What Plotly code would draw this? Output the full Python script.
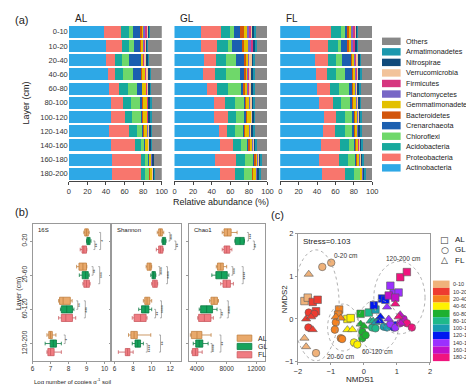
import plotly.graph_objects as go

W, H = 474, 384
FONT = "Liberation Sans, Arial, sans-serif"


def px(x):
    return x / W


def py(y):
    return 1 - y / H


# ---------------- Panel (a) data ----------------
layers = ["0-10", "10-20", "20-40", "40-60", "60-80", "80-100", "100-120",
          "120-140", "140-160", "160-180", "180-200"]
phyla = ["Actinobacteria", "Proteobacteria", "Acidobacteria", "Chloroflexi",
         "Crenarchaeota", "Bacteroidetes", "Gemmatimonadetes", "Planctomycetes",
         "Firmicutes", "Verrucomicrobia", "Nitrospirae", "Armatimonadetes", "Others"]
phylum_colors = ["#2EA8E6", "#F8766D", "#17A99D", "#6FD86A", "#1B5FB0", "#D2550C",
                 "#E3C000", "#7766C6", "#D6367F", "#F2C39A", "#114A7A", "#1C98AE", "#888888"]

# rows = layers, columns = phyla (same order as above)
al_abund = [
    [38, 18.5, 8, 5, 7, 2, 2, 2, 1.5, 1, 1.5, 1, 12.5],
    [40, 17, 8, 5, 7, 1, 2, 1, 1, 1, 1.5, 1, 14.5],
    [40, 10, 7, 7.5, 13, 0.5, 2, 0.5, 0.5, 2, 2.5, 1, 13.5],
    [42.5, 7.7, 8, 10.5, 9.5, 0.5, 3.5, 0.5, 0.5, 1.5, 2.5, 1, 11.8],
    [43, 11.5, 9, 10, 5, 0.5, 4, 0.5, 0.5, 1, 2.5, 1, 11.5],
    [45, 13, 9, 10, 2.5, 0.5, 4, 0.5, 0.5, 1, 2, 1, 11],
    [45, 15.5, 8, 9.5, 1.5, 0.5, 4, 0.5, 0.5, 1, 2, 1.5, 10.5],
    [43, 22, 8, 6, 1.5, 0.5, 3.5, 0.5, 0.5, 1, 2, 1, 10.5],
    [45, 26, 7, 3, 1, 0.5, 2.5, 0.5, 0.5, 1, 1.5, 1, 10.5],
    [46, 32, 4.5, 3.5, 0.5, 0.3, 2, 0.5, 0.3, 0.5, 1.5, 0.5, 7.9],
    [46, 32, 4.5, 4, 0.5, 0.3, 2, 0.3, 0.3, 0.7, 1.5, 0.5, 7.4],
]
gl_abund = [
    [29, 21.5, 9, 5, 5.5, 4.5, 3.5, 3, 2, 1.5, 2, 1.5, 12],
    [29, 17, 11, 5, 10.5, 2.5, 4.5, 2.5, 3, 1, 1.5, 1, 11.5],
    [32, 12.5, 10.5, 11, 10, 1, 3, 1, 0.5, 1.5, 3, 1, 13],
    [31, 12.5, 11.5, 15, 6, 0.5, 3, 1, 0.5, 1.5, 3, 1, 13.5],
    [35, 10.5, 11.5, 14.5, 3.5, 0.5, 4, 1, 0.5, 1.5, 3, 1, 13.5],
    [43, 11.5, 10.5, 10.5, 1.5, 0.3, 4, 0.5, 0.3, 1, 2.5, 1, 13.4],
    [43, 14, 9.5, 9.5, 1.5, 0.3, 5, 0.5, 0.3, 1, 1.5, 1, 12.9],
    [47.5, 8.5, 9.5, 9.5, 1, 0.3, 5, 0.5, 0.3, 1, 2, 1, 13.9],
    [49, 14, 9, 7.5, 1, 0.3, 4, 0.5, 0.3, 0.5, 1.5, 1, 11.4],
    [44, 22, 10, 10, 1, 0.3, 2.5, 1, 0.5, 0.5, 1.5, 1, 5.7],
    [49, 16, 9.5, 9.5, 0.5, 0.3, 3.5, 1, 0.5, 0.5, 1.5, 1, 7.2],
]
fl_abund = [
    [32, 23, 11, 4, 3, 2, 2.5, 2, 3, 0.5, 1, 1, 15],
    [32, 20, 10.5, 4, 7, 1.5, 2.5, 2, 2.5, 0.5, 1.5, 1, 15],
    [38, 14, 8.5, 7, 10.5, 0.5, 3, 1, 1, 1, 2.5, 1, 12],
    [38.5, 12, 10, 9.5, 9, 0.5, 3, 1, 0.5, 1, 2.5, 1, 11.5],
    [39.5, 14.5, 9.5, 11, 4, 0.3, 3.5, 1, 0.3, 1, 2, 1, 12.4],
    [42.5, 14.5, 9, 9.5, 3.5, 0.3, 3.5, 1, 0.3, 1, 2, 1, 11.9],
    [48, 13, 9.5, 8, 2, 0.3, 3, 1.5, 0.5, 0.5, 1.5, 1, 11.2],
    [46, 14, 10.5, 8, 2, 0.3, 3, 1, 0.3, 0.5, 2, 1, 11.4],
    [44.5, 21, 9.5, 5.5, 1.5, 0.3, 3, 0.5, 0.3, 1, 1.5, 1, 10.4],
    [42.5, 21, 10.5, 8, 1, 0.3, 3, 1, 0.3, 0.5, 2, 1, 8.9],
    [45.5, 24.5, 10, 7, 0.5, 0.3, 2, 0.5, 0.3, 0.5, 1, 1, 6.9],
]

# ---------------- Panel (b) data ----------------
land_uses = ["AL", "GL", "FL"]
lu_fill = ["#E9A96B", "#16A35C", "#F07C82"]
lu_line = ["#C08040", "#0D7A42", "#C95A60"]
depths_b = ["0-20", "20-60", "60-120", "120-200"]
# each row: [lower whisker, q1, median, q3, upper whisker]
s16_al = [[8.85, 8.9, 9.0, 9.1, 9.15], [8.45, 8.58, 8.8, 9.0, 9.02], [7.45, 7.5, 7.7, 8.1, 8.2], [6.8, 6.9, 7.0, 7.1, 7.3]]
s16_gl = [[9.0, 9.02, 9.1, 9.2, 9.25], [8.6, 8.76, 8.95, 9.1, 9.15], [7.55, 7.6, 7.9, 8.22, 8.3], [6.7, 6.98, 7.15, 7.33, 7.6]]
s16_fl = [[8.65, 8.75, 8.85, 9.0, 9.02], [8.8, 8.85, 9.0, 9.16, 9.2], [7.45, 7.6, 7.85, 8.22, 8.4], [6.8, 6.85, 7.0, 7.2, 7.6]]
shan_al = [[10.6, 10.75, 10.95, 11.15, 11.3], [9.4, 9.5, 9.8, 9.95, 10.0], [9.1, 9.25, 9.5, 9.8, 10.0], [7.5, 7.75, 8.1, 8.45, 9.9]]
shan_gl = [[11.1, 11.15, 11.3, 11.5, 11.55], [9.9, 10.03, 10.2, 10.4, 10.45], [8.6, 8.9, 9.3, 9.7, 10.0], [7.9, 8.2, 8.5, 8.8, 9.1]]
shan_fl = [[10.5, 10.75, 10.95, 11.2, 11.25], [10.0, 10.1, 10.35, 10.6, 10.65], [7.9, 8.1, 8.8, 9.4, 9.5], [6.4, 7.15, 7.4, 7.65, 8.0]]
chao_al = [[7400, 7640, 8100, 8600, 9400], [6600, 6760, 7200, 7550, 8000], [5700, 5880, 6300, 6760, 6900], [3100, 3250, 4000, 4660, 5900]]
chao_gl = [[9100, 9170, 9800, 10360, 10400], [6000, 6540, 7300, 8080, 8300], [4300, 4490, 5300, 6100, 6700], [3500, 3830, 4300, 4790, 5500]]
chao_fl = [[7400, 7640, 8000, 8430, 8700], [7200, 7500, 8000, 8500, 8900], [4100, 4220, 5000, 5880, 6200], [3300, 3380, 3800, 4130, 4700]]
s16_ticks = [6, 7, 8, 9, 10]
shan_ticks = [6, 8, 10, 12]
chao_ticks = [4000, 8000, 12000]
# significance: (depth index, land use a, land use b, label)
sig_16s = [(0, 1, 2, "**"), (0, 0, 2, "*"), (1, 0, 1, "**"), (1, 0, 2, "***"),
           (2, 0, 1, "**"), (2, 0, 2, "***"), (3, 0, 1, "*")]
sig_shan = [(0, 0, 1, "***"), (0, 1, 2, "**"), (1, 0, 1, "****"), (1, 0, 2, "****"),
            (2, 1, 2, "**"), (2, 0, 2, "****"), (3, 1, 2, "****"), (3, 0, 2, "**")]
sig_chao = [(0, 0, 1, "***"), (0, 1, 2, "**"), (1, 0, 1, "***"), (1, 0, 2, "****"),
            (2, 1, 2, "**"), (2, 0, 2, "****"), (3, 1, 2, "****"), (3, 0, 2, "**")]

# ---------------- Panel (c) data ----------------
layer_colors = ["#F0B27A", "#EE3B30", "#F5821F", "#FFF200", "#1DB02F", "#1FB98A",
                "#1A9CB0", "#0018F0", "#9B30FF", "#C010C8", "#F0147E"]
nmds_al_x = [-1.8, -1.7, -1.55, -1.4, -1.45, -0.75, -0.78, -0.5, -0.4, -0.1, 0.15, 0.35,
             0.3, 0.55, 0.65, 0.8, 0.9, 1.05, 0.75, 0.95, 1.1, 1.3]
nmds_al_y = [0.42, 0.5, 0.4, 0.45, 0.18, 0.22, 0.1, 0.0, 0.02, 0.12, 0.15, 0.22,
             0.32, 0.48, 0.45, 0.78, 0.6, 0.62, 0.55, 0.5, 0.98, 1.1]
nmds_al_layer = [0, 0, 1, 1, 1, 2, 2, 3, 3, 4, 5, 6, 7, 7, 7, 8, 8, 8, 9, 9, 10, 10]
nmds_gl_x = [-1.26, -0.99, -1.45, -1.67, -1.5, -1.68, -0.85, -0.88, -0.7, -0.66, -0.3, -0.2,
             -0.05, -0.05, 0.05, 0.25, 0.35, 0.6, 0.7, 0.9, 0.95, 0.8, 0.95, 1.1, 1.2, 1.3, 1.45]
nmds_gl_y = [1.22, 1.32, -0.8, 0.15, 0.12, -0.2, -0.08, -0.25, -0.45, -0.47, -0.55, -0.6,
             -0.3, -0.45, -0.38, -0.2, -0.22, -0.18, -0.2, -0.2, -0.15, -0.12, -0.2, -0.1, 0.0, -0.1, -0.2]
nmds_gl_layer = [0, 0, 0, 1, 1, 1, 2, 2, 2, 2, 3, 3, 4, 4, 4, 5, 5, 6, 6, 7, 7, 8, 8, 9, 9, 10, 10]
nmds_fl_x = [-1.67, -1.8, -1.75, -1.75, -1.6, -1.55, -0.85, -0.7, -0.5, -0.35, -0.1, 0.0,
             0.2, 0.28, 0.35, 0.45, 0.5, 0.48, 0.7, 0.75, 1.1, 1.12, 1.05, 0.95]
nmds_fl_y = [1.05, -0.45, -0.65, 0.0, 0.05, -0.25, 0.05, 0.02, -0.25, -0.25, -0.12, -0.17,
             -0.05, -0.05, -0.08, 0.0, 0.05, -0.05, 0.28, 0.0, 0.1, -0.1, 0.05, 0.35]
nmds_fl_layer = [0, 0, 0, 1, 1, 1, 2, 2, 3, 3, 4, 4, 5, 5, 6, 6, 7, 7, 8, 8, 9, 9, 10, 10]
stress_text = "Stress=0.103"
# ellipse groups: label, (x0, x1, y0, y1), label position
ellipse_labels = ["0-20 cm", "20-60 cm", "60-120 cm", "120-200 cm"]
ellipse_bounds = [(-2.15, -0.75, -0.98, 1.62), (-1.1, -0.15, -0.75, 0.35),
                  (-0.2, 1.05, -0.75, 0.45), (0.3, 1.85, -0.35, 1.35)]
ellipse_label_pos = [(-0.55, 1.48), (-0.72, -0.87), (0.42, -0.77), (1.18, 1.42)]

fig = go.Figure()

# ---- (a) stacked bars ----
for pi, (abund, xa, ya) in enumerate([(al_abund, "x", "y"), (gl_abund, "x2", "y2"), (fl_abund, "x3", "y3")]):
    for k, ph in enumerate(phyla):
        fig.add_trace(go.Bar(
            y=layers, x=[row[k] for row in abund], orientation="h", name=ph,
            marker=dict(color=phylum_colors[k], line=dict(width=0)),
            xaxis=xa, yaxis=ya, showlegend=False, hoverinfo="x+y+name"))

# ---- (b) boxes ----
box_sets = [([s16_al, s16_gl, s16_fl], "x4", "y4"),
            ([shan_al, shan_gl, shan_fl], "x5", "y5"),
            ([chao_al, chao_gl, chao_fl], "x6", "y6")]
for stats, xa, ya in box_sets:
    for li, lu in enumerate(land_uses):
        s = stats[li]
        fig.add_trace(go.Box(
            y=depths_b, orientation="h", name=lu, offsetgroup=lu,
            lowerfence=[r[0] for r in s], q1=[r[1] for r in s], median=[r[2] for r in s],
            q3=[r[3] for r in s], upperfence=[r[4] for r in s],
            fillcolor=lu_fill[li], line=dict(color=lu_line[li], width=0.8),
            whiskerwidth=0.5, boxpoints=False, xaxis=xa, yaxis=ya, showlegend=False))

# ---- (c) NMDS ----
for xs, ys, lays, sym, lu in [(nmds_al_x, nmds_al_y, nmds_al_layer, "square", "AL"),
                              (nmds_gl_x, nmds_gl_y, nmds_gl_layer, "circle", "GL"),
                              (nmds_fl_x, nmds_fl_y, nmds_fl_layer, "triangle-up", "FL")]:
    fig.add_trace(go.Scatter(
        x=xs, y=ys, mode="markers", name=lu, xaxis="x7", yaxis="y7", showlegend=False,
        marker=dict(symbol=sym, size=7.5 if sym != "triangle-up" else 8,
                    color=[layer_colors[i] for i in lays],
                    line=dict(color="#5a5a5a", width=0.6))))

shapes = []
annotations = []


def ann(x, y, text, size=8, xanchor="left", yanchor="middle", angle=0, color="#222", xref="paper", yref="paper", family=FONT):
    annotations.append(dict(x=x, y=y, xref=xref, yref=yref, text=text, showarrow=False,
                            xanchor=xanchor, yanchor=yanchor, textangle=angle,
                            font=dict(size=size, color=color, family=family)))


# (a) labels
ann(px(1), py(8), "(a)", size=11)
for x0, t in [(62, "AL"), (170, "GL"), (278, "FL")]:
    ann(px(x0), py(7), t, size=10)
ann(px(14), py(93), "Layer (cm)", size=9, xanchor="center", angle=-90)
ann(px(214), py(195), "Relative abundance (%)", size=9, xanchor="center")
# (a) manual legend, top entry = Others
for i, k in enumerate(reversed(range(len(phyla)))):
    yc = 30 + 10.8 * i
    shapes.append(dict(type="rect", xref="paper", yref="paper", x0=px(378), x1=px(397),
                       y0=py(yc + 3.8), y1=py(yc - 3.8), fillcolor=phylum_colors[k], line=dict(width=0)))
    ann(px(400), py(yc), phyla[k], size=7.2)

# (b) labels
ann(px(1), py(205), "(b)", size=11)
ann(px(7), py(288), "Layer (cm)", size=7, xanchor="center", angle=-90)
ann(px(20), py(378), "Log number of copies g<sup>-1</sup> soil", size=6)
ann(px(25), py(223), "16S", size=6)
ann(px(105), py(223), "Shannon", size=6)
ann(px(184), py(223), "Chao1", size=6)
for li, lu in enumerate(land_uses):
    yc = 334 + 8.5 * li
    shapes.append(dict(type="rect", xref="paper", yref="paper", x0=px(230), x1=px(245),
                       y0=py(yc + 3.2), y1=py(yc - 3.2), fillcolor=lu_fill[li],
                       line=dict(color=lu_line[li], width=0.8)))
    ann(px(249), py(yc), lu, size=7)

# significance brackets
offsets = [-0.25, 0.0, 0.25]
for (stats, xa, ya), sigs, scale in zip(box_sets, [sig_16s, sig_shan, sig_chao],
                                         [18.75, 9.5, 0.0076]):
    level_count = {}
    for (d, a, b, lab) in sigs:
        base = max(stats[a][d][4], stats[b][d][4])
        if b - a == 2:
            base = max(base, stats[1][d][4])
        lvl = level_count.get(d, 0)
        level_count[d] = lvl + 1
        xb = base + (4 + 6 * lvl) / scale
        tick = 1.5 / scale
        y1 = d + offsets[a]
        y2 = d + offsets[b]
        lc = dict(color="#777", width=0.6)
        shapes.append(dict(type="line", xref=xa, yref=ya, x0=xb, x1=xb, y0=y1, y1=y2, line=lc))
        shapes.append(dict(type="line", xref=xa, yref=ya, x0=xb - tick, x1=xb, y0=y1, y1=y1, line=lc))
        shapes.append(dict(type="line", xref=xa, yref=ya, x0=xb - tick, x1=xb, y0=y2, y1=y2, line=lc))
        ann(xb + 2.2 / scale, (y1 + y2) / 2, lab, size=5, xanchor="center", angle=-90,
            xref=xa, yref=ya, color="#333")

# (c) labels
ann(px(263), py(208), "(c)", size=11)
ann(px(278), py(294), "NMDS2", size=8, xanchor="center", angle=-90)
ann(px(356), py(376), "NMDS1", size=8, xanchor="center")
ann(-1.9, 1.82, stress_text, size=8, xref="x7", yref="y7")
for (x0, x1, y0, y1), lab, (lx, ly) in zip(ellipse_bounds, ellipse_labels, ellipse_label_pos):
    shapes.append(dict(type="circle", xref="x7", yref="y7", x0=x0, x1=x1, y0=y0, y1=y1,
                       line=dict(color="#9a9a9a", width=0.8, dash="dot")))
    ann(lx, ly, lab, size=6.5, xanchor="center", xref="x7", yref="y7", color="#333")
for i, (sym, lu) in enumerate(zip(["□", "○", "△"], land_uses)):
    yc = 233 + 10.5 * i
    ann(px(442), py(yc), sym, size=9, xanchor="center", family="DejaVu Sans", color="#333")
    ann(px(451), py(yc), lu, size=8)
for i, lab in enumerate(layers):
    yt = 275 + 7.5 * i
    shapes.append(dict(type="rect", xref="paper", yref="paper", x0=px(430), x1=px(447),
                       y0=py(yt + 7.5), y1=py(yt), fillcolor=layer_colors[i], line=dict(width=0)))
    ann(px(448.5), py(yt + 3.75), lab, size=5.5, color="#333")

axis_font = dict(size=7.5, color="#333", family=FONT)
small_font = dict(size=6.5, color="#333", family=FONT)

layout = dict(
    width=W, height=H, margin=dict(l=0, r=0, t=0, b=0),
    paper_bgcolor="white", plot_bgcolor="white",
    font=dict(family=FONT, color="#222"),
    barmode="stack", bargap=0.16,
    boxmode="group", boxgap=0.25, boxgroupgap=0.16,
    showlegend=False, shapes=shapes, annotations=annotations,
)
bar_x = dict(range=[0, 100], tickvals=[0, 20, 40, 60, 80, 100], ticks="outside", ticklen=3,
             showline=True, linecolor="#444", linewidth=0.8, showgrid=False, zeroline=False,
             tickfont=axis_font)
bar_y = dict(type="category", autorange="reversed", showgrid=False, showline=False,
             ticks="", tickfont=axis_font, domain=[py(173), py(13)])
layout["xaxis"] = dict(bar_x, domain=[px(58), px(153)], anchor="y")
layout["xaxis2"] = dict(bar_x, domain=[px(166), px(261)], anchor="y2")
layout["xaxis3"] = dict(bar_x, domain=[px(274), px(368)], anchor="y3")
layout["yaxis"] = dict(bar_y, anchor="x")
layout["yaxis2"] = dict(bar_y, anchor="x2", matches="y", showticklabels=False)
layout["yaxis3"] = dict(bar_y, anchor="x3", matches="y", showticklabels=False)

frame = dict(showline=True, mirror=True, linecolor="#999", linewidth=0.8, showgrid=False,
             zeroline=False, ticks="outside", ticklen=2, tickcolor="#999")
box_y = dict(frame, type="category", autorange="reversed", domain=[py(357), py(217)],
             tickangle=-90, tickfont=small_font)
layout["xaxis4"] = dict(frame, domain=[px(21), px(100)], range=[6, 10.3], tickvals=s16_ticks,
                        ticktext=[str(v) for v in s16_ticks], anchor="y4", tickfont=small_font)
layout["xaxis5"] = dict(frame, domain=[px(102), px(173)], range=[5.7, 13.2], tickvals=shan_ticks,
                        ticktext=[str(v) for v in shan_ticks], anchor="y5", tickfont=small_font)
layout["xaxis6"] = dict(frame, domain=[px(181), px(258)], range=[2950, 13100],
                        tickvals=chao_ticks, ticktext=[str(v) for v in chao_ticks],
                        anchor="y6", tickfont=small_font)
layout["yaxis4"] = dict(box_y, anchor="x4")
layout["yaxis5"] = dict(box_y, anchor="x5", matches="y4", showticklabels=False)
layout["yaxis6"] = dict(box_y, anchor="x6", matches="y4", showticklabels=False)

layout["xaxis7"] = dict(frame, domain=[px(292), px(427)], range=[-2, 2], tickvals=[-2, -1, 0, 1, 2],
                        anchor="y7", tickfont=axis_font)
layout["yaxis7"] = dict(frame, domain=[py(358), py(227)], range=[-1, 2], tickvals=[-1, 0, 1, 2],
                        anchor="x7", tickfont=axis_font)

fig.update_layout(**layout)
fig.write_html("out.html")
